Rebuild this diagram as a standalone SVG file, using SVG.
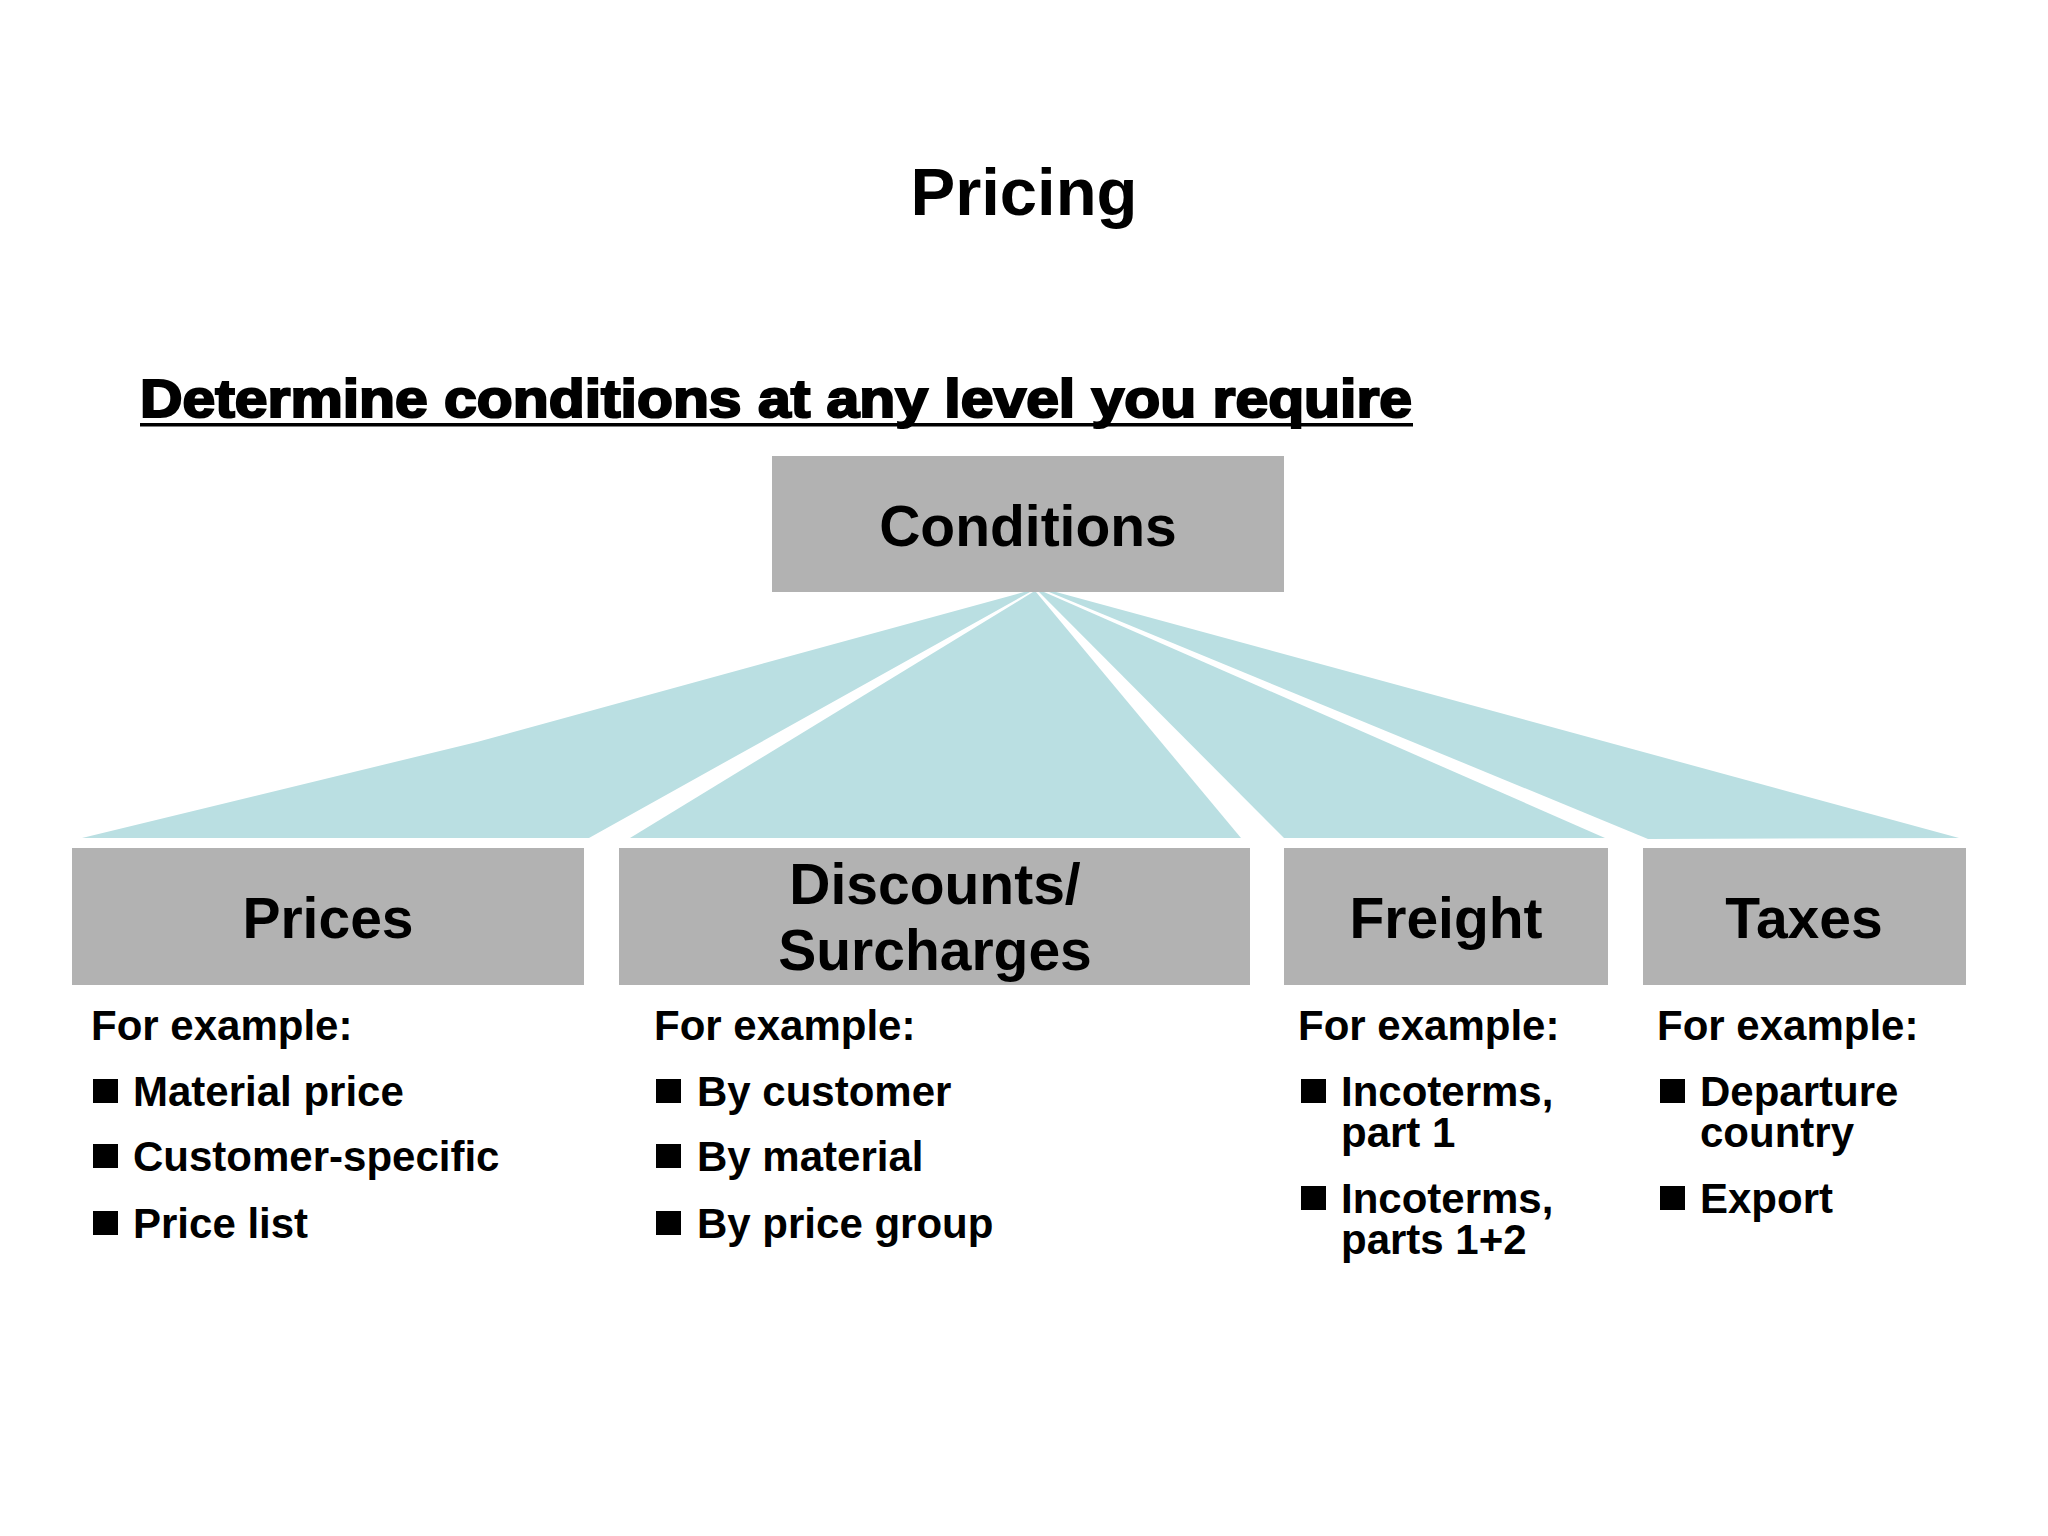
<svg xmlns="http://www.w3.org/2000/svg" width="2048" height="1536" viewBox="0 0 2048 1536">
<style>
text{font-family:"Liberation Sans",Arial,sans-serif;font-weight:bold;fill:#000}
.box{fill:#B2B2B2}
.fan{fill:#BADFE2}
.lbl{font-size:57px;text-anchor:middle}
.ex{font-size:42px}
.bul{fill:#000}
</style>
<rect width="2048" height="1536" fill="#fff"/>
<text x="1024" y="215" font-size="67" text-anchor="middle">Pricing</text>
<text x="140" y="417" font-size="54" stroke="#000" stroke-width="2.2" textLength="1272" lengthAdjust="spacingAndGlyphs">Determine conditions at any level you require</text>
<rect x="140" y="423" width="1273" height="3.5" fill="#000"/>
<g id="connectors">
<polygon class="fan" points="1024,592 1030,592 589,838 82,838 477,742"/>
<polygon class="fan" points="1033,592 1036,592 1241,838 630,838"/>
<polygon class="fan" points="1039,592 1044,592 1605,838 1284,838"/>
<polygon class="fan" points="1049,592 1056,592 1959,838 1648,839"/>
</g>
<g id="conditions">
<rect class="box" x="772" y="456" width="512" height="136"/>
<text class="lbl" x="1028" y="546">Conditions</text>
</g>
<g id="prices">
<rect class="box" x="72" y="848" width="512" height="137"/>
<text class="lbl" x="328" y="938">Prices</text>
<text class="ex" x="91" y="1040">For example:</text>
<rect class="bul" x="93" y="1079" width="25" height="24"/>
<text class="ex" x="133" y="1106">Material price</text>
<rect class="bul" x="93" y="1144" width="25" height="24"/>
<text class="ex" x="133" y="1171">Customer-specific</text>
<rect class="bul" x="93" y="1211" width="25" height="24"/>
<text class="ex" x="133" y="1238">Price list</text>
</g>
<g id="discounts">
<rect class="box" x="619" y="848" width="631" height="137"/>
<text class="lbl" x="935" y="904">Discounts/</text>
<text class="lbl" x="935" y="970">Surcharges</text>
<text class="ex" x="654" y="1040">For example:</text>
<rect class="bul" x="656" y="1079" width="25" height="24"/>
<text class="ex" x="697" y="1106">By customer</text>
<rect class="bul" x="656" y="1144" width="25" height="24"/>
<text class="ex" x="697" y="1171">By material</text>
<rect class="bul" x="656" y="1211" width="25" height="24"/>
<text class="ex" x="697" y="1238">By price group</text>
</g>
<g id="freight">
<rect class="box" x="1284" y="848" width="324" height="137"/>
<text class="lbl" x="1446" y="938">Freight</text>
<text class="ex" x="1298" y="1040">For example:</text>
<rect class="bul" x="1301" y="1079" width="25" height="24"/>
<text class="ex" x="1341" y="1106">Incoterms,</text>
<text class="ex" x="1341" y="1147">part 1</text>
<rect class="bul" x="1301" y="1186" width="25" height="24"/>
<text class="ex" x="1341" y="1213">Incoterms,</text>
<text class="ex" x="1341" y="1254">parts 1+2</text>
</g>
<g id="taxes">
<rect class="box" x="1643" y="848" width="323" height="137"/>
<text class="lbl" x="1804" y="938">Taxes</text>
<text class="ex" x="1657" y="1040">For example:</text>
<rect class="bul" x="1660" y="1079" width="25" height="24"/>
<text class="ex" x="1700" y="1106">Departure</text>
<text class="ex" x="1700" y="1147">country</text>
<rect class="bul" x="1660" y="1186" width="25" height="24"/>
<text class="ex" x="1700" y="1213">Export</text>
</g>
</svg>
